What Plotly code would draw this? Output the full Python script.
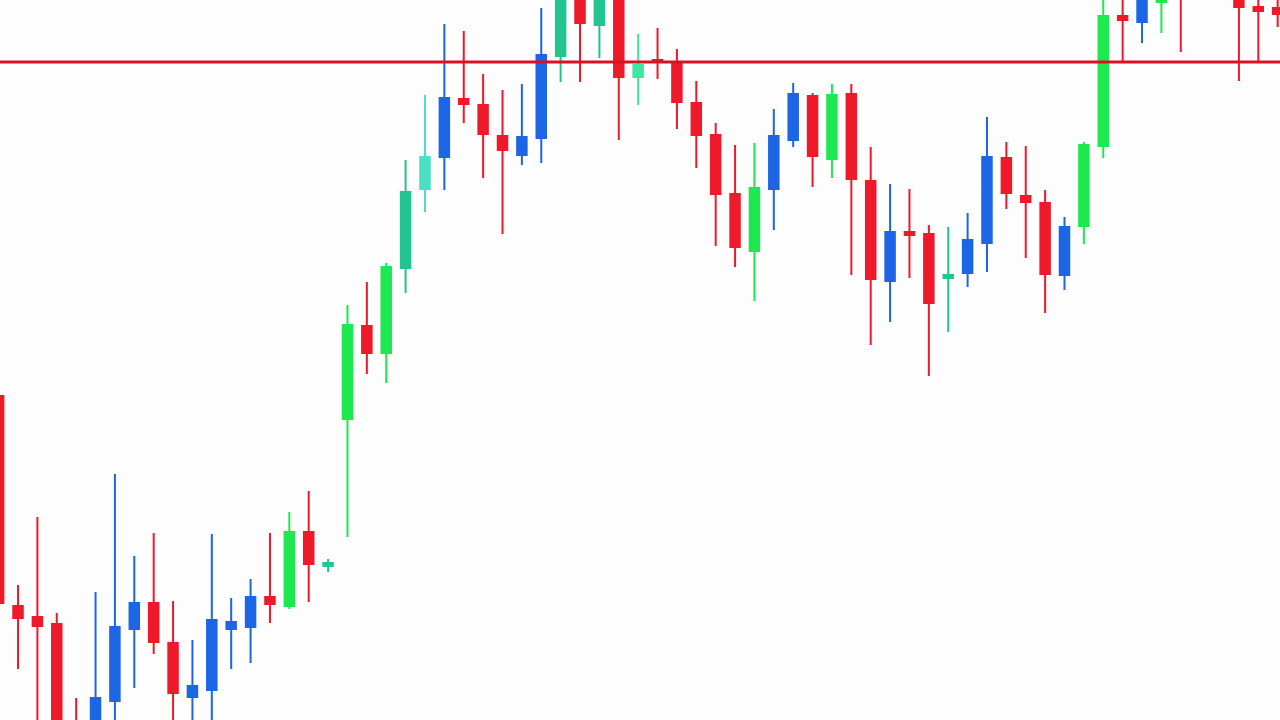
import plotly.graph_objects as go

# Candle index (sequential sessions)
idx = list(range(67))

opens = [324, 114, 103, 96, -5, -40, 19, 91, 117, 77,
         23, 30, 91, 93, 123, 114, 188, 154, 301, 394,
         367, 452, 531, 563, 621, 615, 584, 565, 582, 664,
         740, 695, 760, 643, 660, 658, 617, 585, 526, 469,
         531, 580, 624, 561, 626, 539, 439, 488, 486, 442,
         447, 477, 562, 524, 517, 445, 494, 574, 704, 698,
         718, 760, 800, 750, 760, 713, 712]
highs = [335, 135, 203, 107, 22, 128, 246, 164, 187, 119,
         80, 186, 122, 141, 187, 208, 229, 161, 415, 438,
         457, 560, 625, 696, 689, 646, 630, 636, 712, 760,
         750, 750, 770, 686, 692, 671, 639, 597, 575, 577,
         611, 637, 627, 636, 636, 573, 536, 531, 495, 493,
         507, 603, 578, 574, 530, 503, 578, 725, 750, 760,
         770, 780, 810, 800, 775, 740, 730]
lows = [108, 51, -20, -40, -60, -60, -20, 32, 66, -15,
        -15, -20, 51, 57, 97, 111, 118, 148, 183, 346,
        337, 427, 508, 530, 597, 542, 486, 555, 557, 638,
        638, 662, 580, 615, 641, 591, 552, 474, 453, 419,
        490, 573, 533, 542, 445, 375, 398, 442, 344, 388,
        433, 448, 511, 462, 407, 430, 476, 562, 658, 677,
        687, 668, 730, 735, 639, 659, 693]
closes = [117, 102, 94, -20, -45, 22, 93, 117, 78, 27,
          34, 100, 98, 123, 116, 188, 156, 157, 395, 367,
          453, 528, 563, 622, 616, 586, 570, 583, 665, 750,
          697, 740, 643, 655, 658, 618, 585, 526, 473, 532,
          584, 626, 564, 625, 541, 441, 488, 485, 417, 445,
          480, 563, 527, 518, 446, 493, 575, 704, 700, 740,
          750, 730, 750, 790, 713, 709, 706]
groups = ["red", "red", "red", "red", "red", "blue", "blue", "blue", "red", "red",
          "blue", "blue", "blue", "blue", "red", "green", "red", "teal", "green", "red",
          "green", "teal", "aqua", "blue", "red", "red", "red", "blue", "blue", "teal",
          "red", "teal", "red", "mint", "red", "red", "red", "red", "red", "green",
          "blue", "blue", "red", "green", "red", "red", "blue", "red", "red", "teal",
          "blue", "blue", "red", "red", "red", "blue", "green", "green", "red", "blue",
          "green", "red", "red", "blue", "red", "red", "red"]
level = 658

palette = {
    "red": "#ee1a2a",
    "blue": "#1c66e6",
    "green": "#1ee850",
    "teal": "#22c490",
    "aqua": "#4ae0c4",
    "mint": "#3fe6a2",
}

fig = go.Figure()
for g, body in palette.items():
    sel = [i for i in idx if groups[i] == g]
    fig.add_trace(go.Candlestick(
        x=[idx[i] for i in sel],
        open=[opens[i] for i in sel],
        high=[highs[i] for i in sel],
        low=[lows[i] for i in sel],
        close=[closes[i] for i in sel],
        increasing=dict(fillcolor=body, line=dict(color=body, width=2)),
        decreasing=dict(fillcolor=body, line=dict(color=body, width=2)),
        showlegend=False,
        hoverinfo="skip",
    ))

fig.add_hline(y=level, line=dict(color="#d41423", width=3))

fig.update_layout(
    width=1280, height=720,
    margin=dict(l=0, r=0, t=0, b=0),
    paper_bgcolor="#fdfdfd", plot_bgcolor="#fdfdfd",
    showlegend=False,
    xaxis=dict(range=[0.07, 66.12], visible=False, rangeslider=dict(visible=False)),
    yaxis=dict(range=[0, 720], visible=False),
)
fig.write_html(
    "out.html",
    config={"displayModeBar": False},
    post_script="document.body.style.margin='0';document.body.style.overflow='hidden';",
)
